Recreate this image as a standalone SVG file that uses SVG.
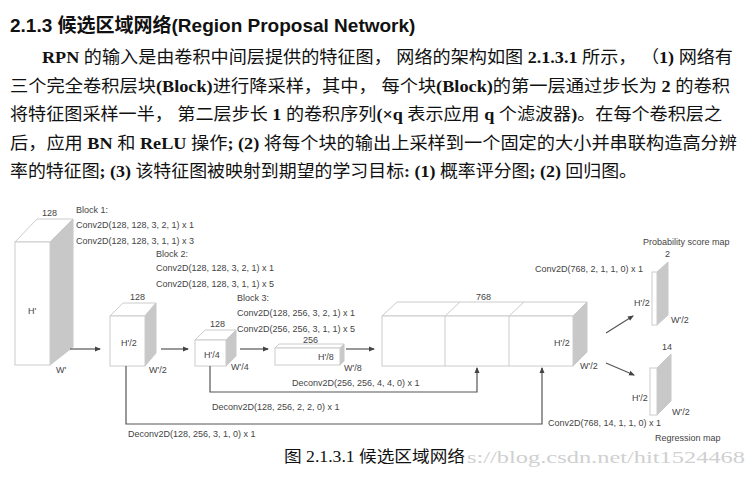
<svg xmlns="http://www.w3.org/2000/svg" width="756" height="477" viewBox="0 0 756 477">
<style>
.p{font-family:"Liberation Serif","Noto Sans CJK SC",serif;font-size:17px;fill:#111}
.s{font-family:"Liberation Sans",sans-serif;font-size:9px;fill:#444}
.f{fill:#fff;stroke:#ccc;stroke-width:1}
.g{fill:#c8c8c8;stroke:#c8c8c8}
.ln{fill:none;stroke:#555;stroke-width:1.2}
</style>
<defs><marker id="a" markerWidth="6" markerHeight="6" refX="5" refY="3" orient="auto" markerUnits="userSpaceOnUse"><path d="M0,0.5L6,3L0,5.5z" fill="#444"/></marker></defs>
<rect width="756" height="477" fill="#fff"/>
<text x="10" y="32" font-family="Liberation Sans,Noto Sans CJK SC,sans-serif" font-weight="bold" font-size="19" fill="#111">2.1.3 候选区域网络(Region Proposal Network)</text>
<text class="p" x="42" y="63" textLength="691" lengthAdjust="spacingAndGlyphs"><tspan font-weight="bold">RPN</tspan> 的输入是由卷积中间层提供的特征图， 网络的架构如图 <tspan font-weight="bold">2.1.3.1</tspan> 所示， （<tspan font-weight="bold">1)</tspan> 网络有</text>
<text class="p" x="10" y="92" textLength="720" lengthAdjust="spacingAndGlyphs">三个完全卷积层块<tspan font-weight="bold">(Block)</tspan>进行降采样，其中， 每个块<tspan font-weight="bold">(Block)</tspan>的第一层通过步长为 <tspan font-weight="bold">2</tspan> 的卷积</text>
<text class="p" x="10" y="120" textLength="712" lengthAdjust="spacingAndGlyphs">将特征图采样一半， 第二层步长 <tspan font-weight="bold">1</tspan> 的卷积序列<tspan font-weight="bold">(×q</tspan> 表示应用 <tspan font-weight="bold">q</tspan> 个滤波器<tspan font-weight="bold">)</tspan>。在每个卷积层之</text>
<text class="p" x="10" y="149" textLength="727" lengthAdjust="spacingAndGlyphs">后，应用 <tspan font-weight="bold">BN</tspan> 和 <tspan font-weight="bold">ReLU</tspan> 操作<tspan font-weight="bold">; (2)</tspan> 将每个块的输出上采样到一个固定的大小并串联构造高分辨</text>
<text class="p" x="10" y="177" textLength="627" lengthAdjust="spacingAndGlyphs">率的特征图<tspan font-weight="bold">; (3)</tspan> 该特征图被映射到期望的学习目标<tspan font-weight="bold">: (1)</tspan> 概率评分图<tspan font-weight="bold">; (2)</tspan> 回归图。</text>

<g id="block1"><path class="f" d="M15,242L37,219L73,219L50,242z"/><path class="g" d="M50,242L73,219L73,347L50,365z"/><rect class="f" x="15" y="242" width="35" height="123"/>
<text class="s" x="42" y="216">128</text><text class="s" x="28" y="314">H'</text><text class="s" x="56" y="373">W'</text></g>
<g id="t1"><text class="s" x="76" y="213">Block 1:</text><text class="s" x="76" y="228">Conv2D(128, 128, 3, 2, 1) x 1</text><text class="s" x="76" y="244">Conv2D(128, 128, 3, 1, 1) x 3</text></g>
<g id="block2"><path class="f" d="M110,316L123,303L156,303L145,316z"/><path class="g" d="M145,316L156,303L156,353L145,366z"/><rect class="f" x="110" y="316" width="35" height="50"/>
<text class="s" x="130" y="300">128</text><text class="s" x="121" y="346">H'/2</text><text class="s" x="149" y="373">W'/2</text></g>
<g id="t2"><text class="s" x="156" y="257">Block 2:</text><text class="s" x="156" y="271">Conv2D(128, 128, 3, 2, 1) x 1</text><text class="s" x="156" y="287">Conv2D(128, 128, 3, 1, 1) x 5</text></g>
<g id="block3"><path class="f" d="M195,340L205,330L236,330L226,340z"/><path class="g" d="M226,340L236,330L236,356L226,366z"/><rect class="f" x="195" y="340" width="31" height="26"/>
<text class="s" x="210" y="327">128</text><text class="s" x="204" y="358">H'/4</text><text class="s" x="231" y="370">W'/4</text></g>
<g id="t3"><text class="s" x="237" y="301">Block 3:</text><text class="s" x="237" y="316">Conv2D(128, 256, 3, 2, 1) x 1</text><text class="s" x="237" y="332">Conv2D(256, 256, 3, 1, 1) x 5</text></g>
<g id="block4"><path class="f" d="M275,348L279,344L344,344L340,348z"/><path class="g" d="M340,348L344,344L344,361L340,365z"/><rect class="f" x="275" y="348" width="65" height="17"/>
<text class="s" x="303" y="343">256</text><text class="s" x="318" y="360">H'/8</text><text class="s" x="344" y="371">W'/8</text></g>
<g id="concat"><path class="f" d="M382,316L397,302L587,302L573,316z"/><path class="g" d="M573,316L587,302L587,352L573,366z"/><rect class="f" x="382" y="316" width="191" height="50"/>
<path d="M445,316V366M509,316V366M445,316L460,302M509,316L524,302" stroke="#ccc" fill="none"/>
<text class="s" x="476" y="300">768</text><text class="s" x="554" y="346">H'/2</text><text class="s" x="580" y="369">W'/2</text></g>
<g id="prob"><path class="g" d="M657,272L668,262L668,315L657,325z"/><rect class="f" x="652" y="272" width="5" height="53"/>
<text class="s" x="643" y="245" font-size="8">Probability score map</text><text class="s" x="665" y="257">2</text><text class="s" x="634" y="306">H'/2</text><text class="s" x="671" y="323">W'/2</text>
<text class="s" x="535" y="272">Conv2D(768, 2, 1, 1, 0) x 1</text></g>
<g id="reg"><path class="g" d="M657,368L671,354L671,401L657,415z"/><rect class="f" x="650" y="368" width="7" height="47"/>
<text class="s" x="662" y="350">14</text><text class="s" x="632" y="401">H'/2</text><text class="s" x="672" y="415">W'/2</text>
<text class="s" x="548" y="426">Conv2D(768, 14, 1, 1, 0) x 1</text><text class="s" x="655" y="441" font-size="8">Regression map</text></g>
<g id="connectors">
<path class="ln" d="M70,349H100" marker-end="url(#a)"/><path class="ln" d="M161,349H188" marker-end="url(#a)"/>
<path class="ln" d="M240,349H268" marker-end="url(#a)"/><path class="ln" d="M346,349H374" marker-end="url(#a)"/>
<path class="ln" d="M210,366V392H477V368" marker-end="url(#a)"/>
<path class="ln" d="M126,366V424H542V368" marker-end="url(#a)"/>
<path class="ln" d="M606,333L633,316" marker-end="url(#a)"/><path class="ln" d="M606,363L634,375" marker-end="url(#a)"/>
<text class="s" x="292" y="386">Deconv2D(256, 256, 4, 4, 0) x 1</text>
<text class="s" x="212" y="410">Deconv2D(128, 256, 2, 2, 0) x 1</text>
<text class="s" x="128" y="437">Deconv2D(128, 256, 3, 1, 0) x 1</text>
</g>
<text x="745" y="463" text-anchor="end" font-family="Liberation Serif,serif" font-size="17" fill="#d0d0d0" textLength="278" lengthAdjust="spacingAndGlyphs">s://blog.csdn.net/hit1524468</text>
<text x="284" y="462" font-family="Liberation Serif,Noto Sans CJK SC,serif" font-size="16" fill="#111" textLength="181" lengthAdjust="spacingAndGlyphs">图 2.1.3.1 候选区域网络</text>
</svg>
